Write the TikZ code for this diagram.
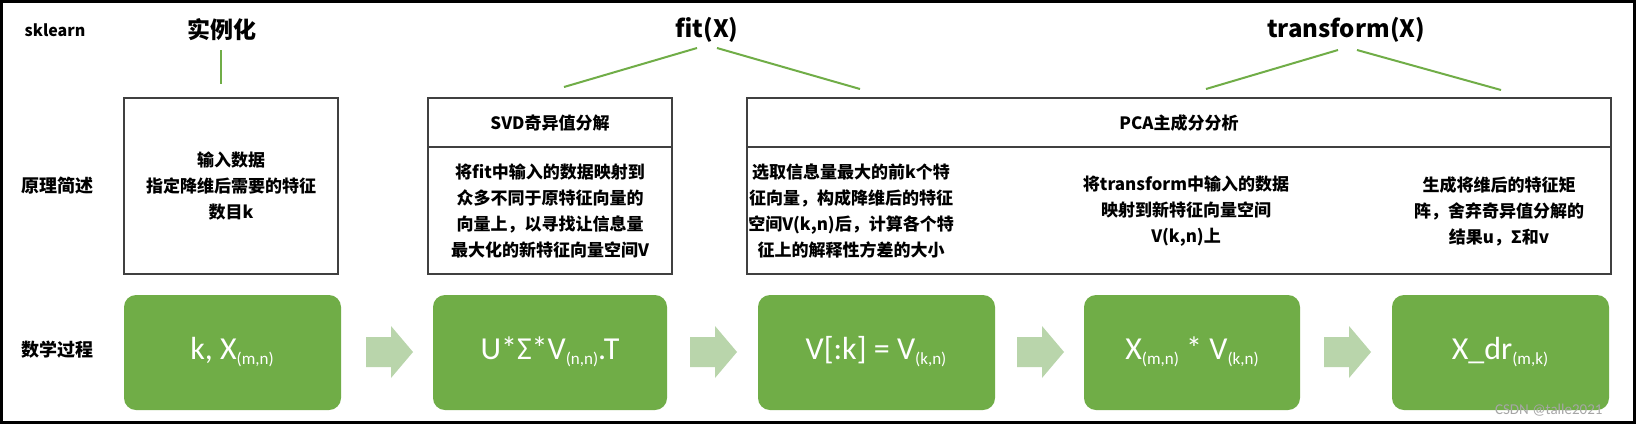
\documentclass[tikz,border=0pt]{standalone}
\usepackage{fontspec}
\setmainfont{Noto Sans CJK SC}
\newfontfamily\lat{Carlito}
\definecolor{gfill}{HTML}{70AD47}
\definecolor{garrow}{HTML}{B9D5AB}
\newcommand{\sbs}[1]{\raisebox{-5pt}{\fontsize{17}{17}\selectfont #1}}
\begin{document}
\begin{tikzpicture}[x=1pt,y=-1pt,
  txt/.style={font=\bfseries\fontsize{17}{26}\selectfont, align=center, inner sep=0pt},
  wbox/.style={draw=black!75, line width=1.2pt, fill=white},
  gtxt/.style={text=white, font=\lat\fontsize{32}{32}\selectfont},
  gline/.style={draw=gfill, line width=2pt},
  rowlab/.style={font=\bfseries\fontsize{18}{20}\selectfont}]
\useasboundingbox (0,0) rectangle (1636,424);
\fill[white] (0,0) rectangle (1636,424);
\draw[black, line width=3pt] (1.5,1.5) rectangle (1634.5,422.5);
% top labels
\node[font=\bfseries\fontsize{16}{16}\selectfont] (sk) at (55,30) {sklearn};
\node[font=\bfseries\fontsize{23}{23}\selectfont] (inst) at (222,30) {实例化};
\node[font=\bfseries\fontsize{24}{24}\selectfont] (fit) at (707,30) {fit(X)};
\node[font=\bfseries\fontsize{24}{24}\selectfont] (tr) at (1346,30) {transform(X)};
\coordinate (i1) at (221,50); \coordinate (i2) at (221,84);
\draw[gline] (i1) -- (i2);
\coordinate (f0) at (697,48); \coordinate (f1) at (564,87);
\coordinate (f2) at (717,48); \coordinate (f3) at (860,89);
\draw[gline] (f0) -- (f1); \draw[gline] (f2) -- (f3);
\coordinate (t0) at (1338,50); \coordinate (t1) at (1206,89);
\coordinate (t2) at (1357,50); \coordinate (t3) at (1501,90);
\draw[gline] (t0) -- (t1); \draw[gline] (t2) -- (t3);
% row labels
\node[rowlab] (r1) at (57,186) {原理简述};
\node[rowlab] (r2) at (57,350) {数学过程};
% white boxes
\draw[wbox] (124,98) rectangle (338,274);
\node[txt] (b1) at (231,186) {输入数据\\指定降维后需要的特征\\数目k};
\draw[wbox] (428,98) rectangle (672,274);
\draw[black!75, line width=1.2pt] (428,147) -- (672,147);
\node[txt] (svdh) at (550,123) {SVD奇异值分解};
\node[txt] (svd) at (550,211) {将fit中输入的数据映射到\\众多不同于原特征向量的\\向量上，以寻找让信息量\\最大化的新特征向量空间V};
\draw[wbox] (747,98) rectangle (1611,274);
\draw[black!75, line width=1.2pt] (747,147) -- (1611,147);
\node[txt] (pcah) at (1179,123) {PCA主成分分析};
\node[txt] (p1) at (851,211) {选取信息量最大的前k个特\\征向量，构成降维后的特征\\空间V(k,n)后，计算各个特\\征上的解释性方差的大小};
\node[txt] (p2) at (1186,211) {将transform中输入的数据\\映射到新特征向量空间\\V(k,n)上};
\node[txt] (p3) at (1499,211) {生成将维后的特征矩\\阵，舍弃奇异值分解的\\结果u，Σ和v};
% green boxes
\fill[gfill, rounded corners=12pt] (124,295) rectangle (341,410);
\node[gtxt] (g1) at (232,352) {k, X\sbs{(m,n)}};
\fill[gfill, rounded corners=12pt] (433,295) rectangle (667,410);
\node[gtxt] (g2) at (550,352) {U*Σ*V\sbs{(n,n)}.T};
\fill[gfill, rounded corners=12pt] (758,295) rectangle (995,410);
\node[gtxt] (g3) at (876,352) {V[:k] = V\sbs{(k,n)}};
\fill[gfill, rounded corners=12pt] (1084,295) rectangle (1300,410);
\node[gtxt] (g4) at (1192,352) {X\sbs{(m,n)} * V\sbs{(k,n)}};
\fill[gfill, rounded corners=12pt] (1392,295) rectangle (1609,410);
\node[gtxt] (g5) at (1500,352) {X\_dr\sbs{(m,k)}};
% arrows
\foreach \a in {366,690,1017,1324}{
  \fill[garrow] (\a,337) -- (\a+25,337) -- (\a+25,326) -- (\a+47,352) -- (\a+25,378) -- (\a+25,367) -- (\a,367) -- cycle;
}
\node[text=black!35, font=\lat\fontsize{15}{15}\selectfont, anchor=east] (wm) at (1606,410) {CSDN @talle2021};
\end{tikzpicture}
\end{document}
